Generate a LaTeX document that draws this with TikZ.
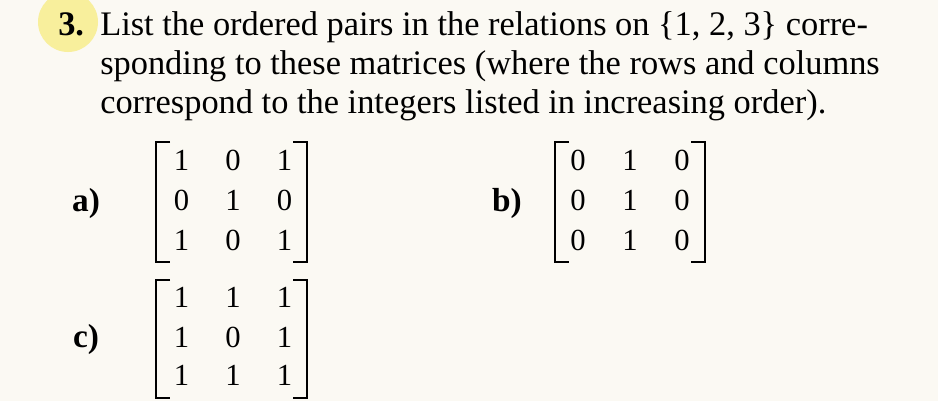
\documentclass[tikz,border=0pt]{standalone}
\usepackage{fontspec}
\setmainfont{Liberation Serif}
\definecolor{bg}{HTML}{FBF9F3}
\definecolor{hl}{HTML}{F8EF9C}
\begin{document}
\begin{tikzpicture}[x=0.75pt,y=-0.75pt,
  txt/.style={anchor=base west,inner sep=0pt,font=\fontsize{25.8}{30}\selectfont},
  num/.style={anchor=base,inner sep=0pt,font=\fontsize{23}{27}\selectfont},
  lbl/.style={anchor=base,inner sep=0pt,font=\fontsize{25}{30}\selectfont\bfseries},
  brk/.style={line width=2pt}]
\fill[bg] (0,0) rectangle (938,401);
\useasboundingbox (0,0) rectangle (938,401);
\fill[hl] (68,22) circle (30);
\node[txt,font=\fontsize{25.8}{30}\selectfont\bfseries] (n3) at (58,35) {3.};
\node[txt] (l1) at (100,35) {List the ordered pairs in the relations on \{1, 2, 3\} corre-};
\node[txt] (l2) at (100,74) {sponding to these matrices (where the rows and columns};
\node[txt] (l3) at (100,113) {correspond to the integers listed in increasing order).};
\newcommand{\mybrk}[4]{% x1,x2,ytop,ybot
  \draw[brk] (#1+14,#3)--(#1,#3)--(#1,#4)--(#1+14,#4);
  \draw[brk] (#2-14,#3)--(#2,#3)--(#2,#4)--(#2-14,#4);}
% a
\node[lbl] (la) at (86,211) {a)};
\mybrk{156}{307}{142}{262}
\foreach \r/\y in {{1,0,1}/170,{0,1,0}/210,{1,0,1}/250}{
  \foreach \v [count=\i] in \r {\node[num] at ({130+51.5*\i},\y) {\v};}}
% b
\node[lbl] (lb) at (507,211) {b)};
\mybrk{555}{705}{142}{262}
\foreach \r/\y in {{0,1,0}/170,{0,1,0}/210,{0,1,0}/250}{
  \foreach \v [count=\i] in \r {\node[num] at ({526+52*\i},\y) {\v};}}
% c
\node[lbl] (lc) at (86,347) {c)};
\mybrk{156}{307}{280}{398}
\foreach \r/\y in {{1,1,1}/307,{1,0,1}/347,{1,1,1}/385}{
  \foreach \v [count=\i] in \r {\node[num] at ({130+51.5*\i},\y) {\v};}}
\end{tikzpicture}
\end{document}
